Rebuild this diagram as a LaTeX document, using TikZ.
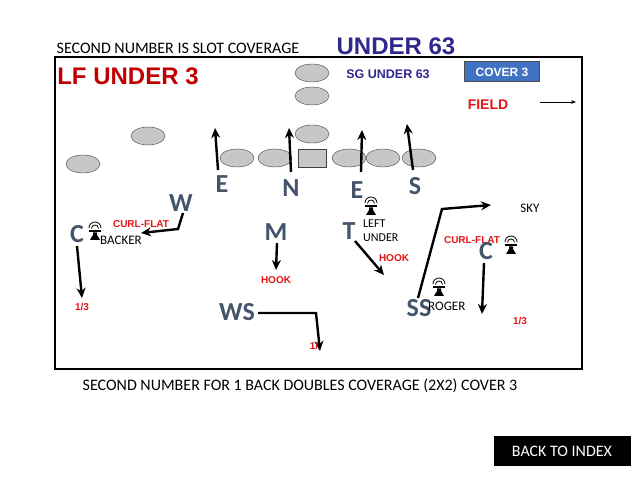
\documentclass[tikz,border=0pt]{standalone}
\usepackage{fontspec}
\setmainfont{Carlito}
\newfontfamily\arial{Liberation Sans}
\definecolor{pl}{HTML}{44546A}
\definecolor{navy}{RGB}{48,40,140}
\definecolor{rd}{RGB}{230,20,20}
\definecolor{drd}{RGB}{192,0,0}
\definecolor{cblue}{RGB}{66,114,196}
\usetikzlibrary{arrows.meta,shapes.geometric}
\tikzset{
 player/.style={text=pl,font=\fontsize{26}{26}\selectfont\bfseries,inner sep=0},
 lab/.style={text=rd,font=\arial\fontsize{10}{10}\selectfont\bfseries,inner sep=0},
 txt/.style={font=\fontsize{13}{13}\selectfont,inner sep=0,align=left},
 ov/.style={draw=black!75,fill=black!22,ellipse,minimum width=34pt,minimum height=18pt,inner sep=0},
 rt/.style={line width=2.4pt,-{Stealth[length=10pt,width=9pt]}},
}
\tikzset{spk/.pic={
 \fill (-6,-3) rectangle (6,-0.5);
 \fill (-2,-0.5) -- (2,-0.5) -- (2,2) -- (5,7) -- (-5,7) -- (-2,2) -- cycle;
 \draw[line width=0.8pt] (-3.5,-4.5) arc (180:360:3.5);
 \draw[line width=0.8pt] (-6,-5) arc (180:360:6);
}}
\begin{document}
\begin{tikzpicture}[x=1pt,y=-1pt]
\useasboundingbox (0,0) rectangle (638,478);
\node[txt,font=\fontsize{16}{16}\selectfont] (t1) at (178,48) {SECOND NUMBER IS SLOT COVERAGE};
\node[inner sep=0,text=navy,font=\arial\fontsize{24}{24}\selectfont\bfseries] (t2) at (396,46) {UNDER 63};
\draw[line width=1.8pt] (55,57) rectangle (582,369);
\node[inner sep=0,text=drd,font=\arial\fontsize{24}{24}\selectfont\bfseries] (lf) at (128,76) {LF UNDER 3};
\node[inner sep=0,text=navy,font=\arial\fontsize{12.5}{12.5}\selectfont\bfseries] (sg) at (388,74) {SG UNDER 63};
\node[draw=black!70,line width=1pt,fill=cblue,text=white,minimum width=75pt,minimum height=20pt,inner sep=0,font=\arial\fontsize{12}{12}\selectfont\bfseries] (cov) at (502,72) {COVER 3};
\node[lab,font=\arial\fontsize{14}{14}\selectfont\bfseries] (fld) at (488,105) {FIELD};
\coordinate (fa) at (540,102); \coordinate (fb) at (576,102);
\draw[-{Stealth[length=5pt]},line width=0.8pt] (fa) -- (fb);
% offense
\node[ov] (o1) at (312,73) {};
\node[ov] (o2) at (312,96) {};
\node[ov] (o3) at (148,136) {};
\node[ov] (o4) at (83,164) {};
\node[ov] (o5) at (312,134) {};
\node[ov] (l1) at (237,158) {};
\node[ov] (l2) at (275,158) {};
\node[draw=black!75,fill=black!22,minimum width=28pt,minimum height=18pt,inner sep=0] (ctr) at (312,158) {};
\node[ov] (l4) at (349,158) {};
\node[ov] (l5) at (383,158) {};
\node[ov] (l6) at (419,158) {};
% defense
\node[player] (E1) at (222,184) {E};
\node[player] (N) at (291,188) {N};
\node[player] (E2) at (357,190) {E};
\node[player] (S) at (415,186) {S};
\coordinate (e1a) at (218,170); \coordinate (e1b) at (215,128);
\coordinate (na) at (291,172); \coordinate (nb) at (289,128);
\coordinate (e2a) at (361,172); \coordinate (e2b) at (362,130);
\coordinate (sa) at (413,170); \coordinate (sb) at (407,124);
\draw[rt] (e1a) -- (e1b);
\draw[rt] (na) -- (nb);
\draw[rt] (e2a) -- (e2b);
\draw[rt] (sa) -- (sb);
\node[player] (W) at (181,203) {W};
\coordinate (wa) at (183,213); \coordinate (wb) at (178,229); \coordinate (wc) at (141,233);
\draw[rt] (wa) -- (wb) -- (wc);
\node[lab] (cf1) at (141,224) {CURL-FLAT};
\node[player] (C1) at (77,234) {C};
\pic at (95,233) {spk};
\node[txt,anchor=west] (bk) at (100,240) {BACKER};
\coordinate (c1a) at (77,246); \coordinate (c1b) at (82,298);
\draw[rt] (c1a) -- (c1b);
\node[lab] (t13a) at (82,307) {1/3};
\node[player] (M) at (276,232) {M};
\coordinate (ma) at (277,243); \coordinate (mb) at (276,270);
\draw[rt] (ma) -- (mb);
\node[lab] (hk1) at (276,280) {HOOK};
\node[player] (T) at (349,231) {T};
\pic at (371,208) {spk};
\node[txt,anchor=north west,inner sep=0,font=\fontsize{12}{14}\selectfont] (lu) at (363,220) {LEFT\\UNDER};
\coordinate (ta) at (355,241); \coordinate (tb) at (384,275);
\draw[rt] (ta) -- (tb);
\node[lab] (hk2) at (394,258) {HOOK};
\node[player] (WS) at (237,312) {WS};
\coordinate (wsa) at (258,313); \coordinate (wsb) at (316,313); \coordinate (wsc) at (320,351);
\draw[rt] (wsa) -- (wsb) -- (wsc);
\node[lab] (hf) at (314,346) {1/};
\node[player] (SS) at (419,308) {SS};
\pic at (439,289) {spk};
\node[txt,anchor=west] (rg) at (428,306) {ROGER};
\coordinate (ssa) at (418,298); \coordinate (ssb) at (442,209); \coordinate (ssc) at (491,205);
\draw[rt] (ssa) -- (ssb) -- (ssc);
\node[txt] (sky) at (530,208) {SKY};
\node[lab] (cf2) at (472,240) {CURL-FLAT};
\node[player] (C2) at (486,251) {C};
\pic at (511,247) {spk};
\coordinate (c2a) at (484,263); \coordinate (c2b) at (482,314);
\draw[rt] (c2a) -- (c2b);
\node[lab] (t13b) at (520,321) {1/3};
\node[txt,font=\fontsize{16}{16}\selectfont] (bot) at (300,386) {SECOND NUMBER FOR 1 BACK DOUBLES COVERAGE (2X2) COVER 3};
\node[fill=black,text=white,minimum width=137pt,minimum height=30pt,inner sep=0,font=\fontsize{16}{16}\selectfont] (bi) at (562,451) {BACK TO INDEX};
\end{tikzpicture}
\end{document}
